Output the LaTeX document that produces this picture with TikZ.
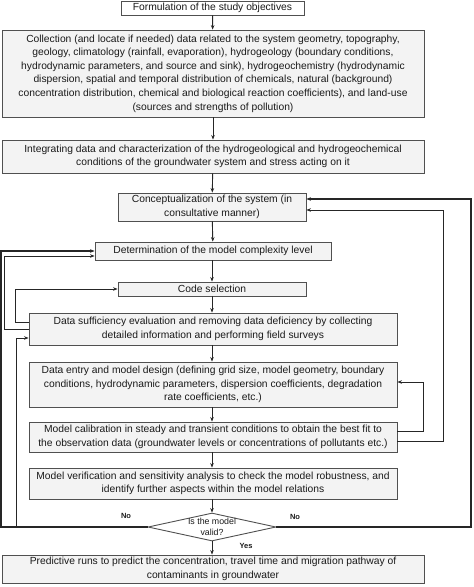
\documentclass[tikz,border=0pt]{standalone}
\usepackage{fontspec}
\setmainfont{Liberation Sans}
\usetikzlibrary{shapes.geometric,arrows.meta}
\definecolor{boxline}{HTML}{505050}
\definecolor{boxfill}{HTML}{F3F3F3}
\definecolor{txt}{HTML}{1A1A1A}
\begin{document}
\begin{tikzpicture}[x=1pt,y=-1pt,
  box/.style={draw=boxline, fill=boxfill, line width=0.9pt, inner sep=0pt, align=center,
    font=\fontsize{10.3}{13.6}\selectfont, text=txt},
  arr/.style={-{Stealth[length=4.5pt,width=3.6pt]}, line width=0.9pt, draw=black!85},
  thick line/.style={line width=1.6pt},
  lab/.style={font=\bfseries\fontsize{7.5}{9}\selectfont, text=txt}]
\useasboundingbox (0,0) rectangle (474,587);

\node[box, fill=white, minimum width=183pt, minimum height=14pt] (form) at (212.5,8)
  {Formulation of the study objectives};
\node[box, minimum width=422pt, minimum height=87pt] (coll) at (213,73.5)
  {Collection (and locate if needed) data related to the system geometry, topography,\\
   geology, climatology (rainfall, evaporation), hydrogeology (boundary conditions,\\
   hydrodynamic parameters, and source and sink), hydrogeochemistry (hydrodynamic\\
   dispersion, spatial and temporal distribution of chemicals, natural (background)\\
   concentration distribution, chemical and biological reaction coefficients), and land-use\\
   (sources and strengths of pollution)};
\node[box, minimum width=422pt, minimum height=33pt] (integ) at (213,156.5)
  {Integrating data and characterization of the hydrogeological and hydrogeochemical\\
   conditions of the groundwater system and stress acting on it};
\node[box, minimum width=188pt, minimum height=28pt] (concept) at (212,207)
  {Conceptualization of the system (in\\consultative manner)};
\node[box, minimum width=236pt, minimum height=18pt] (determ) at (213,251)
  {Determination of the model complexity level};
\node[box, minimum width=188pt, minimum height=14pt] (code) at (212,289)
  {Code selection};
\node[box, minimum width=368pt, minimum height=32pt] (suff) at (213,329)
  {Data sufficiency evaluation and removing data deficiency by collecting\\
   detailed information and performing field surveys};
\node[box, minimum width=368pt, minimum height=45pt] (entry) at (213,384.5)
  {Data entry and model design (defining grid size, model geometry, boundary\\
   conditions, hydrodynamic parameters, dispersion coefficients, degradation\\
   rate coefficients, etc.)};
\node[box, minimum width=368pt, minimum height=30pt] (calib) at (213,437)
  {Model calibration in steady and transient conditions to obtain the best fit to\\
   the observation data (groundwater levels or concentrations of pollutants etc.)};
\node[box, minimum width=368pt, minimum height=31pt] (verif) at (213,483.5)
  {Model verification and sensitivity analysis to check the model robustness, and\\
   identify further aspects within the model relations};
\node[diamond, draw=boxline, fill=white, line width=0.9pt, inner sep=0pt,
  minimum width=128pt, minimum height=28pt,
  label={[font=\fontsize{8.8}{11.5}\selectfont, align=center, text=txt]center:Is the model\\valid?}]
  (diam) at (212,527) {};
\node[box, minimum width=422pt, minimum height=28pt] (pred) at (213,569)
  {Predictive runs to predict the concentration, travel time and migration pathway of\\
   contaminants in groundwater};

% labels
\node[lab] (no1) at (126,516) {No};
\node[lab] (no2) at (295,517) {No};
\node[lab] (yes) at (246,546) {Yes};

% helper coordinates
\coordinate (L1) at (1,0);
\coordinate (L2) at (4.5,0);
\coordinate (L3) at (15,0);
\coordinate (L4) at (16,0);
\coordinate (R1) at (423,0);
\coordinate (R2) at (443,0);
\coordinate (R3) at (471,0);
\coordinate (y199) at (0,199);
\coordinate (y210) at (0,210);
\coordinate (y256) at (0,256);
\coordinate (y322) at (0,322);
\coordinate (y329) at (0,329);
\coordinate (y338) at (0,338);
\coordinate (y382) at (0,382);
\coordinate (y431) at (0,431);
\coordinate (y441) at (0,441);

% main flow
\draw[arr] (form) -- (coll);
\draw[arr] (coll) -- (integ);
\draw[arr] (integ) -- (concept);
\draw[arr] (concept) -- (determ);
\draw[arr] (determ.south -| code.north) -- (code);
\draw[arr] (code) -- (suff.north -| code.south);
\draw[arr] (suff.south -| code.south) -- (entry.north -| code.south);
\draw[arr] (entry.south -| code.south) -- (calib.north -| code.south);
\draw[arr] (calib.south -| code.south) -- (verif.north -| code.south);
\draw[arr] (verif.south -| diam.north) -- (diam.north);
\draw[arr] (diam.south) -- (pred.north -| diam.south);

% feedback loops left
\draw[arr, thick line] (diam.west) -| (L1 |- determ.west) -- (determ.west);
\draw[arr] (suff.west |- y329) -| (L2 |- y256) -- (determ.west |- y256);
\draw[arr] (suff.west |- y322) -| (L3 |- code.west) -- (code.west);
\draw[arr] (L4 |- diam.west) |- (suff.west |- y338);

% feedback loops right
\draw[arr] (calib.east |- y431) -| (R1 |- y382) -- (entry.east |- y382);
\draw[arr] (calib.east |- y441) -| (R2 |- y210) -- (concept.east |- y210);
\draw[arr, thick line] (diam.east) -| (R3 |- y199) -- (concept.east |- y199);
\end{tikzpicture}
\end{document}
